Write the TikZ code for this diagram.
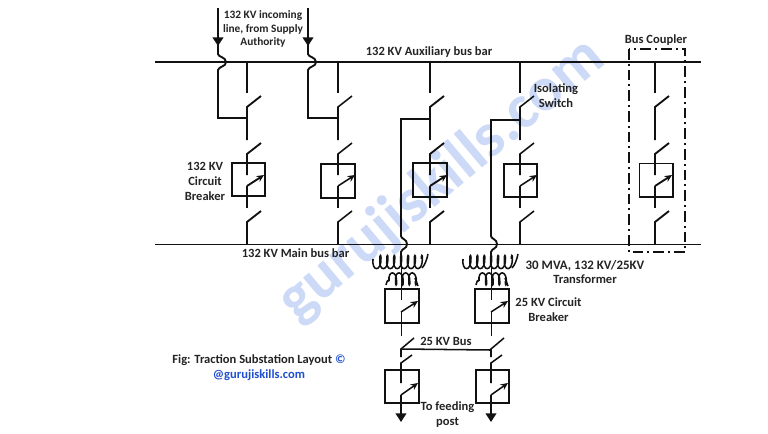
\documentclass[tikz,border=0pt]{standalone}
\usepackage{fontspec}
\setmainfont{Carlito}
\usetikzlibrary{arrows.meta}
\definecolor{wm}{HTML}{CCD9F7}
\definecolor{inkc}{HTML}{111111}
\definecolor{linkc}{HTML}{1F4FD0}
\tikzset{
  px/.style={x=0.75pt,y=-0.75pt},
  heavy/.style={draw=inkc,line width=1.4pt},
  mid/.style={draw=inkc,line width=1.15pt},
  thin bus/.style={draw=inkc,line width=0.75pt},
  cb/.style={draw=inkc,line width=1.4pt,fill=none,inner sep=0pt,minimum width=25pt,minimum height=25pt},
  lbl/.style={font=\bfseries\fontsize{9.4pt}{11.2pt}\selectfont,text=inkc!92,align=center,inner sep=0pt},
  tip/.style={-{Triangle[length=6.5pt,width=8pt]}},
  blade/.style={-{Stealth[length=5.5pt,width=5pt]}},
  coilline/.style={draw=inkc,line width=1.15pt}
}
\newcommand{\bay}[2]{%
  \draw[#2] (#1,62) -- (#1,93);
  \draw[#2] (#1+14,96) -- (#1,107) -- (#1,140);
  \draw[#2] (#1+14,143) -- (#1,154) -- (#1,175);
  \draw[#2] (#1,208) -- (#1,186);
  \draw[#2,blade] (#1,186) -- (#1+17,175);
  \draw[#2] (#1+14,211) -- (#1,222) -- (#1,244);
}
\newcommand{\jump}[3]{% x, y, bulge
  .. controls (#1,#2-5) and (#1+#3,#2-5) .. (#1+#3,#2)
  .. controls (#1+#3,#2+5) and (#1+1,#2+4) .. (#1,#2+8)
}
\newcommand{\xfmr}[1]{%
  \foreach \i in {0,...,6} {
    \pgfmathsetmacro{\xa}{#1-28+6.9*\i}
    \draw[coilline] (\xa,259) .. controls (\xa-1.5,272) and (\xa+8.5,272) .. (\xa+8,258)
       .. controls (\xa+8.3,254.5) and (\xa+6.6,254.5) .. (\xa+6.9,259);
  }
  \draw[coilline] (#1+21,268) .. controls (#1+24,265) and (#1+26,259) .. (#1+27,254);
  \foreach \i in {0,...,3} {
    \pgfmathsetmacro{\xa}{#1-12+6.6*\i}
    \draw[coilline] (\xa,281) .. controls (\xa-1.2,270) and (\xa+8,270) .. (\xa+7.6,282)
       .. controls (\xa+7.9,286) and (\xa+6.3,286) .. (\xa+6.6,281);
  }
  \draw[coilline] (#1-15,285) .. controls (#1-14,281) and (#1-13,279) .. (#1-12,281);
  \draw[coilline] (#1+14,278) -- (#1+17,286);
}
\newcommand{\lowbay}[4]{% x, upper box name, lower box name, lower box x centre
  \node[cb] (#2) at (#1+1,306) {};
  \draw[thin bus] (#1,262) -- (#1,300);
  \draw[mid,blade] (#1,312) -- (#1+17,301);
  \draw[thin bus] (#1,312) -- (#1,336);
  \draw[mid] (#1+13,338) -- (#1,349) -- (#1,357);
  \draw[mid] (#1+11,355) -- (#1,363) -- (#1,383);
  \node[cb] (#3) at (#4,386.5) {};
  \draw[mid,blade] (#1,395) -- (#1+17,383);
  \draw[heavy,tip] (#1,395) -- (#1,422);
}
\begin{document}
\begin{tikzpicture}[px]
\useasboundingbox (0,0) rectangle (768,433);
\fill[white] (0,0) rectangle (768,433);
\node[rotate=40,text=wm,inner sep=0pt,font=\bfseries\fontsize{47pt}{50pt}\selectfont] (wmark) at (442,180) {gurujiskills.com};

\draw[heavy] (155,62) -- (701,62);
\draw[thin bus] (155,244) -- (701,244);

\bay{247}{heavy}
\bay{338}{mid}
\bay{430}{heavy}
\bay{520}{mid}
\bay{655}{heavy}

\node[cb] (cb1) at (248.5,179.5) {};
\node[cb] (cb2) at (338,181) {};
\node[cb] (cb3) at (430,180) {};
\node[cb,line width=1.25pt] (cb4) at (520.5,180.5) {};
\node[cb,line width=1.25pt] (cb5) at (656,180) {};

% incoming lines
\draw[heavy,tip] (218,8) -- (218,46);
\draw[heavy] (218,44) -- (218,54) \jump{218}{62}{8} -- (218,118) -- (247,118);
\draw[heavy,tip] (308,8) -- (308,46);
\draw[heavy] (308,44) -- (308,54) \jump{308}{62}{8} -- (308,118) -- (338,118);

% feeders to transformers
\draw[heavy] (430,119) -- (401,119) -- (401,236) \jump{401}{244}{6} -- (401,262);
\draw[heavy] (520,120) -- (491,120) -- (491,236) \jump{491}{244}{6} -- (491,262);

\xfmr{401}
\xfmr{491}

\lowbay{401}{cbu}{cbv}{402}
\lowbay{491}{cbw}{cbx}{492.5}
\draw[mid] (401,349) -- (491,350);

% bus coupler frame
\draw[draw=inkc,line width=1.2pt,dash pattern=on 8pt off 3pt on 1.5pt off 3pt] (629,49) rectangle (685,252);

% labels
\node[lbl,font=\bfseries\fontsize{8.5pt}{10pt}\selectfont] (t1) at (263,29) {132 KV incoming\\line, from Supply\\Authority};
\node[lbl] (t2) at (429,52) {132 KV Auxiliary bus bar};
\node[lbl] (t3) at (656,40) {Bus Coupler};
\node[lbl] (t4) at (556,95.5) {Isolating\\Switch};
\node[lbl] (t5) at (205,181) {132 KV\\Circuit\\Breaker};
\node[lbl] (t6) at (295.5,253) {132 KV Main bus bar};
\node[lbl] (t7) at (585,272) {\fontsize{9.7pt}{11.2pt}\selectfont 30 MVA, 132 KV/25KV\\Transformer};
\node[lbl] (t8) at (548.5,310) {25 KV Circuit\\Breaker};
\node[lbl] (t9) at (446,341) {25 KV Bus};
\node[lbl] (t10) at (447.5,414.5) {To feeding\\post};
\node[lbl] (t11) at (259,360) {Fig: Traction Substation Layout {\color{linkc}©}};
\node[lbl,text=linkc] (t12) at (259,375) {@gurujiskills.com};
\end{tikzpicture}
\end{document}
